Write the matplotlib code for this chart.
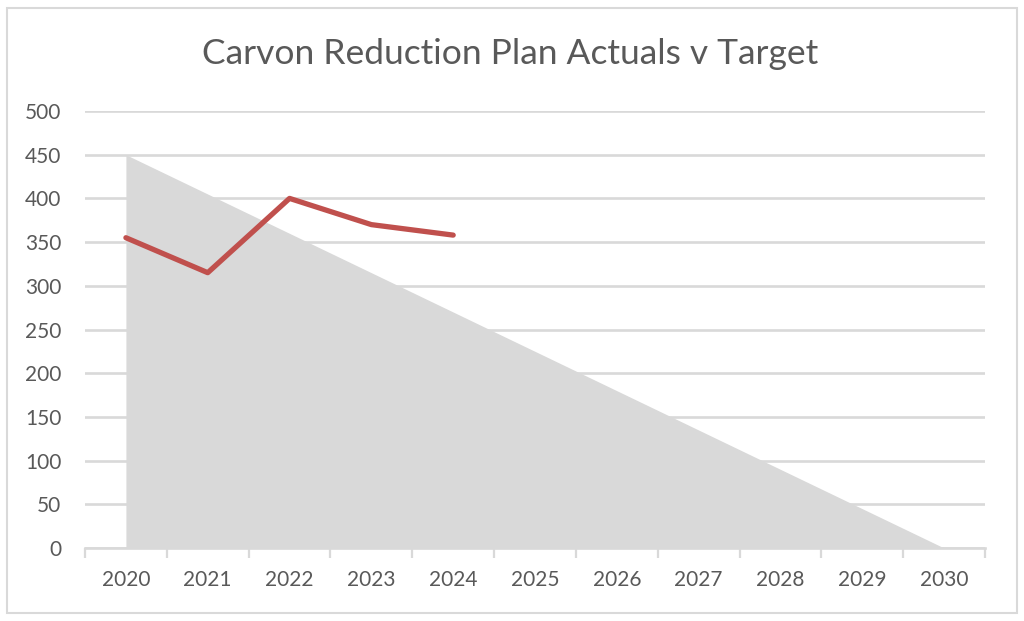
import matplotlib
matplotlib.use("Agg")
import matplotlib.pyplot as plt
from matplotlib.patches import Rectangle

years = ["2020", "2021", "2022", "2023", "2024", "2025", "2026", "2027", "2028", "2029", "2030"]
target = [450, 405, 360, 315, 270, 225, 180, 135, 90, 45, 0]
actuals = [355, 315, 400, 370, 358]
yticks = [0, 50, 100, 150, 200, 250, 300, 350, 400, 450, 500]

plt.rcParams['font.family'] = ['Lato', 'DejaVu Sans']

fig = plt.figure(figsize=(10.24, 6.21), dpi=100)
ax = fig.add_axes([85/1024, 1-548/621, 900/1024, 437/621])

x = list(range(len(years)))
ax.fill_between(x, target, 0, color="#d9d9d9", linewidth=0, zorder=2)
ax.plot(range(len(actuals)), actuals, color="#c0504d", linewidth=3.8,
        solid_capstyle="round", solid_joinstyle="round", zorder=3)

ax.set_xlim(-0.5, len(years) - 0.5)
ax.set_ylim(0, 500)
ax.set_yticks(yticks)
ax.set_yticklabels([str(v) for v in yticks])
ax.yaxis.grid(True, color="#d9d9d9", linewidth=1.9, zorder=1)
ax.set_axisbelow(True)

ax.set_xticks(x)
ax.set_xticklabels(years)
ax.set_xticks([i - 0.5 for i in range(len(years) + 1)], minor=True)
ax.tick_params(axis='x', which='major', length=0, pad=16, labelsize=15, labelcolor="#595959")
ax.tick_params(axis='x', which='minor', length=7, width=1.6, color="#d9d9d9")
ax.tick_params(axis='y', length=0, pad=17, labelsize=15, labelcolor="#595959")

for s in ["top", "right", "left"]:
    ax.spines[s].set_visible(False)
ax.spines["bottom"].set_color("#d9d9d9")
ax.spines["bottom"].set_linewidth(1.9)
ax.spines["bottom"].set_zorder(4)

fig.text(510/1024, 1-54/621, "Carvon Reduction Plan Actuals v Target",
         ha="center", va="center", fontsize=25.5, color="#595959")

fig.patches.append(Rectangle((7/1024, 1-613/621), 1010/1024, 605/621,
                             transform=fig.transFigure, fill=False,
                             edgecolor="#d9d9d9", linewidth=1.5))

fig.savefig("out.png", dpi=100, facecolor="white")
